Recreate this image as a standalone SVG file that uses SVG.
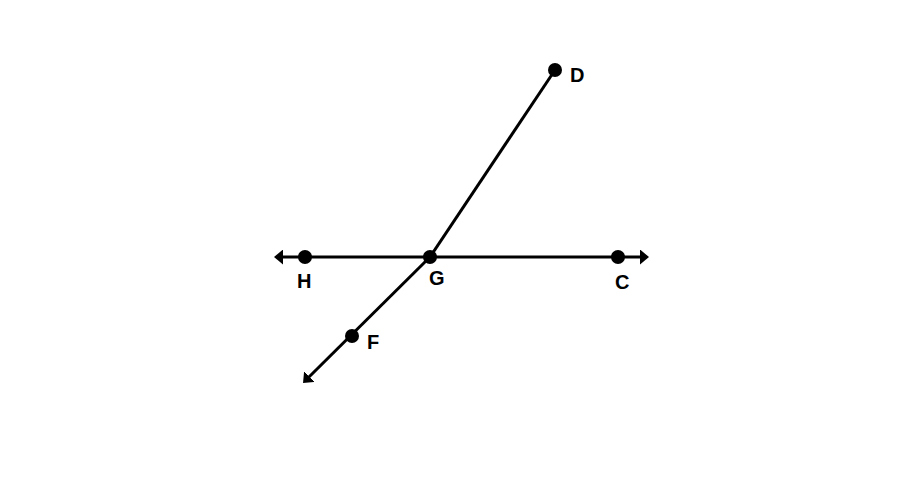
<svg xmlns="http://www.w3.org/2000/svg" width="917" height="502" viewBox="0 0 917 502">
<style>
.ln{stroke:#000;stroke-width:3;fill:none}
.pt{fill:#000}
.lb{font-family:"Liberation Sans",Arial,sans-serif;font-weight:bold;font-size:20px;fill:#000}
</style>
<defs>
<marker id="ah" markerWidth="3" markerHeight="5" refX="1.5" refY="2.5" orient="auto" markerUnits="strokeWidth" viewBox="0 0 3 5">
<path d="M0,0 L3,2.5 L0,5 Z" fill="#000"/>
</marker>
</defs>
<rect width="917" height="502" fill="#fff"/>
<g id="connectors">
<line class="ln" x1="430" y1="257" x2="278.5" y2="257" marker-end="url(#ah)"/>
<line class="ln" x1="430" y1="257" x2="644.5" y2="257" marker-end="url(#ah)"/>
<line class="ln" x1="430" y1="257" x2="555" y2="70"/>
<line class="ln" x1="430" y1="257" x2="306.2" y2="379.8" marker-end="url(#ah)"/>
</g>
<g id="H"><circle class="pt" cx="305" cy="257" r="7"/><text class="lb" x="297" y="288">H</text></g>
<g id="G"><circle class="pt" cx="430" cy="257" r="7"/><text class="lb" x="429" y="285">G</text></g>
<g id="C"><circle class="pt" cx="618" cy="257" r="7"/><text class="lb" x="615" y="289">C</text></g>
<g id="D"><circle class="pt" cx="555" cy="70" r="7"/><text class="lb" x="570" y="82">D</text></g>
<g id="F"><circle class="pt" cx="352" cy="336" r="7"/><text class="lb" x="367" y="349">F</text></g>
</svg>
